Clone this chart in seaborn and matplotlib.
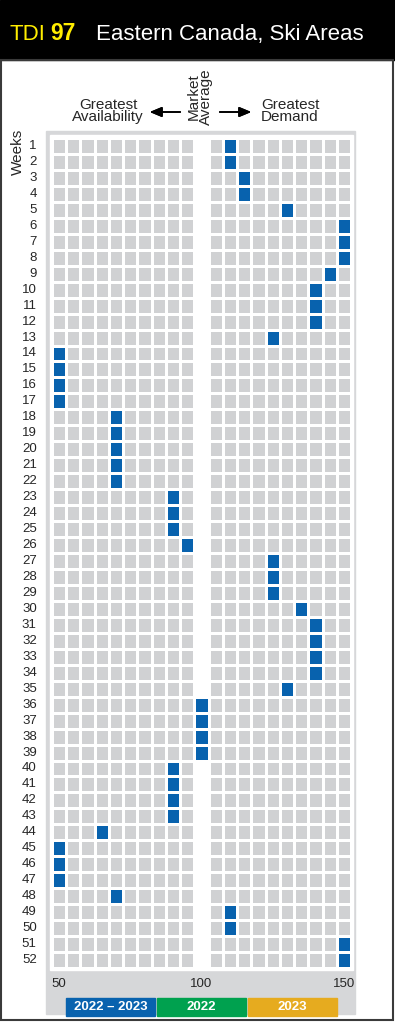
import numpy as np
import pandas as pd
import matplotlib
matplotlib.use("Agg")
import matplotlib.pyplot as plt
from matplotlib.colors import ListedColormap
from matplotlib.patches import Rectangle
import seaborn as sns

sns.set_theme(style="white")
plt.rcParams["font.family"] = ["Liberation Sans", "DejaVu Sans"]

# data
weeks = list(range(1, 53))
tdi = [110, 110, 115, 115, 130, 150, 150, 150, 145, 140,
       140, 140, 125, 50, 50, 50, 50, 70, 70, 70,
       70, 70, 90, 90, 90, 95, 125, 125, 125, 135,
       140, 140, 140, 140, 130, 100, 100, 100, 100, 90,
       90, 90, 90, 65, 50, 50, 50, 70, 110, 110,
       150, 150]
levels = list(range(50, 155, 5))
tick_show = [50, 100, 150]
legend_labels = ["2022 \u2013 2023", "2022", "2023"]

GRAY = "#d0d1d3"
PANEL = "#d6d7d9"
BLUE = "#0862ae"
legend_colors = [BLUE, "#00a14f", "#e6ab1f"]

W, H = 395, 1022


def fx(x):
    return x / W


def fy(y):
    return 1 - y / H


# 0 = gray cell, 1 = week's value, 2 = market average gap
mat = np.zeros((len(weeks), len(levels)), dtype=int)
for i, v in enumerate(tdi):
    for j, lv in enumerate(levels):
        if lv == v:
            mat[i, j] = 1
        elif lv == 100:
            mat[i, j] = 2
df = pd.DataFrame(mat, index=weeks, columns=levels)

fig = plt.figure(figsize=(W / 100, H / 100), dpi=100)
fig.patch.set_facecolor("white")

# title band and frame
fig.add_artist(Rectangle((0, fy(60)), 1, 60 / H, transform=fig.transFigure,
                         color="black", zorder=0))
fig.add_artist(Rectangle((fx(1), fy(1020)), fx(392), 960 / H, transform=fig.transFigure,
                         fill=False, edgecolor="#3a3a3a", lw=1.5, zorder=0))
fig.text(fx(9), fy(40), "TDI", color="#ffed00", fontsize=16, va="baseline")
fig.text(fx(50), fy(40), "97", color="#ffed00", fontsize=16.5, fontweight="bold", va="baseline")
fig.text(fx(96), fy(40), "Eastern Canada, Ski Areas", color="white", fontsize=16, va="baseline")

# gray panel with white inner field
fig.add_artist(Rectangle((fx(46), fy(1014)), fx(309), (1014 - 131) / H,
                         transform=fig.transFigure, color=PANEL, zorder=0))
fig.add_artist(Rectangle((fx(50), fy(970)), fx(303), (970 - 135) / H,
                         transform=fig.transFigure, color="white", zorder=0))

ax = fig.add_axes([fx(52), fy(968), fx(299), (968 - 138) / H])
sns.heatmap(df, ax=ax, cmap=ListedColormap([GRAY, BLUE, "white"]), vmin=-0.5, vmax=2.5,
            linewidths=2, linecolor="white", cbar=False)
ax.set_xlabel("")
ax.set_ylabel("")
ax.set_yticks(np.arange(len(weeks)) + 0.5)
ax.set_yticklabels(weeks, rotation=0, fontsize=9.5, ha="right")
xt = [levels.index(t) + 0.5 for t in tick_show]
ax.set_xticks(xt)
ax.set_xticklabels(tick_show, fontsize=9.5)
ax.tick_params(axis="y", length=0, pad=11)
ax.tick_params(axis="x", length=0, pad=7)
for s in ax.spines.values():
    s.set_visible(False)

# header labels
fig.text(fx(108), fy(111), "Greatest\nAvailability", ha="center", va="center",
         fontsize=11, linespacing=0.9)
fig.text(fx(290), fy(111), "Greatest\nDemand", ha="center", va="center",
         fontsize=11, linespacing=0.9)
fig.text(fx(200), fy(97), "Market\nAverage", ha="center", va="center", rotation=90,
         fontsize=11, linespacing=0.9)
fig.text(fx(18), fy(152), "Weeks", ha="center", va="center", rotation=90, fontsize=11)
arrow = dict(arrowstyle="-|>,head_length=0.6,head_width=0.25", color="black", lw=1.2)
fig.add_artist(plt.annotate("", xy=(fx(147), fy(112)), xytext=(fx(183), fy(112)),
                            xycoords="figure fraction", arrowprops=arrow))
fig.add_artist(plt.annotate("", xy=(fx(254), fy(112)), xytext=(fx(217), fy(112)),
                            xycoords="figure fraction", arrowprops=arrow))

# year legend boxes
for lab, col, x0 in zip(legend_labels, legend_colors, [66, 157, 248]):
    fig.add_artist(Rectangle((fx(x0), fy(1016)), fx(89), 18 / H,
                             transform=fig.transFigure, color=col, zorder=1))
    fig.text(fx(x0 + 44.5), fy(1007), lab, color="white", fontsize=9.5, fontweight="bold",
             ha="center", va="center")

fig.savefig("out.png", dpi=100)
